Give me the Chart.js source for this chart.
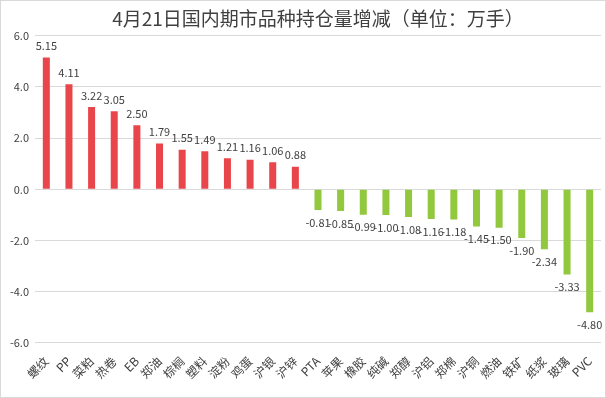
<!DOCTYPE html>
<html>
<head>
<meta charset="utf-8">
<script src="https://cdn.jsdelivr.net/npm/chart.js@4/dist/chart.umd.min.js"></script>
<style>
  body { margin: 0; background: #fff; }
  #wrap { width: 606px; height: 398px; box-sizing: border-box; border: 1px solid #d9d9d9; }
</style>
</head>
<body>
<div id="wrap"><canvas id="myChart" width="604" height="396"></canvas></div>
<script>
var categories = ["螺纹", "PP", "菜粕", "热卷", "EB", "郑油", "棕榈", "塑料", "淀粉", "鸡蛋", "沪银", "沪锌",
  "PTA", "苹果", "橡胶", "纯碱", "郑醇", "沪铝", "郑棉", "沪铜", "燃油", "铁矿", "纸浆", "玻璃", "PVC"];
var values = [5.15, 4.11, 3.22, 3.05, 2.50, 1.79, 1.55, 1.49, 1.21, 1.16, 1.06, 0.88,
  -0.81, -0.85, -0.99, -1.00, -1.08, -1.16, -1.18, -1.45, -1.50, -1.90, -2.34, -3.33, -4.80];
var yTicks = [-6, -4, -2, 0, 2, 4, 6];

var barColors = values.map(function (v) { return v >= 0 ? "#e9464b" : "#92c83e"; });
var fontFam = "'Noto Sans CJK SC', 'Microsoft YaHei', sans-serif";

// value labels above / below each bar
var valueLabels = {
  id: "valueLabels",
  afterDatasetsDraw: function (chart) {
    var ctx = chart.ctx;
    var meta = chart.getDatasetMeta(0);
    ctx.save();
    ctx.font = "11px " + fontFam;
    ctx.fillStyle = "#404040";
    ctx.textAlign = "center";
    meta.data.forEach(function (bar, i) {
      var v = values[i];
      if (v >= 0) {
        ctx.textBaseline = "bottom";
        ctx.fillText(v.toFixed(2), bar.x, bar.y - 6);
      } else {
        ctx.textBaseline = "top";
        ctx.fillText(v.toFixed(2), bar.x, bar.y + 7);
      }
    });
    ctx.restore();
  }
};

var ch = document.getElementById("myChart");
new Chart(ch, {
  type: "bar",
  data: {
    labels: categories,
    datasets: [{
      data: values,
      backgroundColor: barColors,
      barPercentage: 0.62,
      categoryPercentage: 0.5
    }]
  },
  options: {
    responsive: false,
    animation: false,
    layout: { padding: { left: 2, right: 4, top: 0, bottom: 13 } },
    plugins: {
      legend: { display: false },
      tooltip: { enabled: false },
      title: {
        display: true,
        fullSize: false,
        text: "4月21日国内期市品种持仓量增减（单位：万手）",
        color: "#404040",
        font: { family: fontFam, size: 19, weight: "normal" },
        padding: { top: 6, bottom: 6 }
      }
    },
    scales: {
      x: {
        grid: { display: false },
        border: { display: false },
        ticks: {
          color: "#404040",
          font: { family: fontFam, size: 12 },
          minRotation: 45,
          maxRotation: 45,
          autoSkip: false
        }
      },
      y: {
        min: -6,
        max: 6,
        afterBuildTicks: function (axis) {
          axis.ticks = yTicks.map(function (v) { return { value: v }; });
        },
        afterFit: function (axis) { axis.width = 32; },
        border: { display: false },
        grid: { color: "#d9d9d9", borderDash: [2, 2], drawTicks: false },
        ticks: {
          color: "#404040",
          font: { family: fontFam, size: 11 },
          padding: 6,
          callback: function (v) { return v.toFixed(1); }
        }
      }
    }
  },
  plugins: [valueLabels]
});
</script>
</body>
</html>
